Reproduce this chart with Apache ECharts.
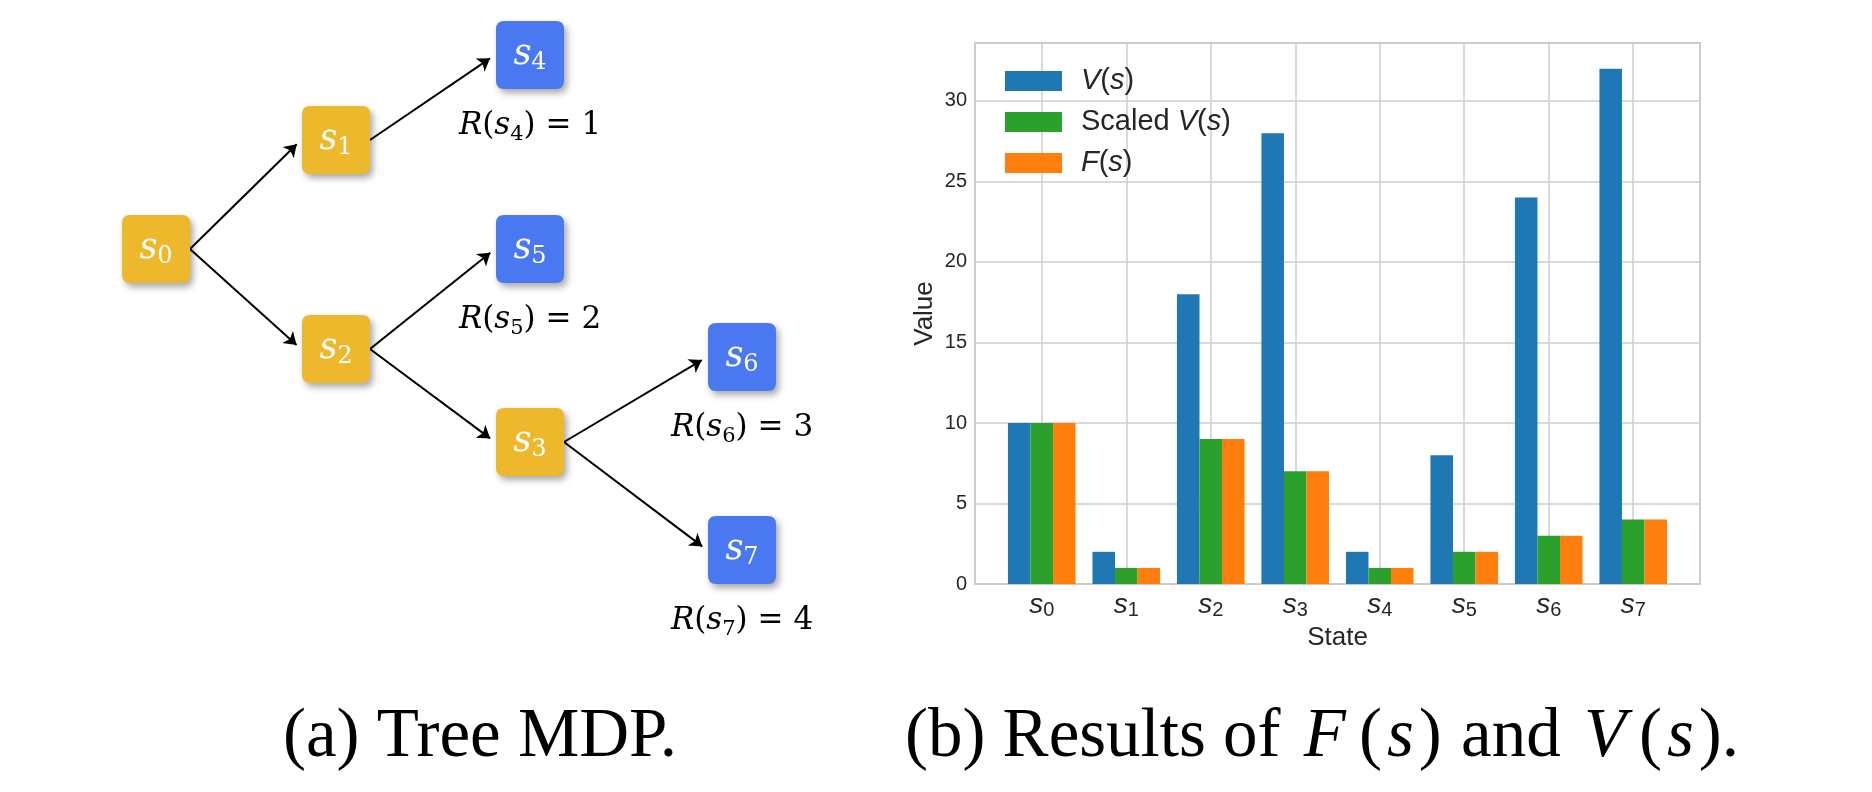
<!DOCTYPE html>
<html><head><meta charset="utf-8">
<script src="https://cdn.jsdelivr.net/npm/echarts@6/dist/echarts.min.js"></script>
<style>html,body{margin:0;padding:0;background:#fff}#c{width:1872px;height:792px}</style>
</head><body><div id="c"></div>
<script>
// ---------- bar chart data ----------
const stateIndex = [0, 1, 2, 3, 4, 5, 6, 7];
const vValues = [10, 2, 18, 28, 2, 8, 24, 32];
const scaledVValues = [10, 1, 9, 7, 1, 2, 3, 4];
const fValues = [10, 1, 9, 7, 1, 2, 3, 4];
const yTickValues = [0, 5, 10, 15, 20, 25, 30];
const seriesNames = ['V(s)', 'Scaled V(s)', 'F(s)'];
const legendRich = {
  'V(s)': '{i|V}({i|s})',
  'Scaled V(s)': 'Scaled {i|V}({i|s})',
  'F(s)': '{i|F}({i|s})'
};

// ---------- tree MDP diagram data ----------
const nodeSub = ['0', '1', '2', '3', '4', '5', '6', '7'];
const nodeX = [156, 336, 336, 530, 530, 530, 742, 742];
const nodeY = [249, 140, 349, 442, 55, 249, 357, 550];
const nodeIsLeaf = [false, false, false, false, true, true, true, true];
const treeEdges = [[0, 1], [0, 2], [1, 4], [2, 5], [2, 3], [3, 6], [3, 7]];
const rewardNodes = [4, 5, 6, 7];
const rewardValues = [1, 2, 3, 4];

const TEXT = '#262626';
const SANS = '"Liberation Sans", Arial, sans-serif';
const MATH = '"DejaVu Serif", serif';
const BOX = 68, HALF = BOX / 2, ARROW = 12;
const roundRect = 'path://M12,0 H88 Q100,0 100,12 V88 Q100,100 88,100 H12 Q0,100 0,88 V12 Q0,0 12,0 Z';

const toPairs = vals => stateIndex.map((x, k) => [x, vals[k]]);

const edgeData = treeEdges.map(([a, b]) => {
  const x1 = nodeX[a] + HALF, y1 = nodeY[a];
  let x2 = nodeX[b] - HALF - 1, y2 = nodeY[b];
  const dx = x2 - x1, dy = y2 - y1, len = Math.hypot(dx, dy);
  x2 -= dx / len * ARROW / 2; y2 -= dy / len * ARROW / 2;
  return { coords: [[x1, y1], [x2, y2]] };
});

const nodeData = nodeSub.map((sub, i) => ({
  value: [nodeX[i], nodeY[i]],
  itemStyle: { color: nodeIsLeaf[i] ? '#4A78F0' : '#EDB82C' },
  label: { formatter: '{s|s}{d|' + sub + '}' }
}));

const rewardData = rewardNodes.map((n, k) => ({
  value: [nodeX[n], nodeY[n] + 71],
  label: { formatter: '{i|R}({i|s}{d|' + nodeSub[n] + '}) = ' + rewardValues[k] }
}));

const chart = echarts.init(document.getElementById('c'), null, { renderer: 'canvas' });
chart.setOption({
  backgroundColor: '#ffffff',
  animation: false,
  grid: [
    { left: 975, top: 43, width: 725, height: 541, show: true, borderColor: '#cccccc', borderWidth: 2, backgroundColor: 'transparent' },
    { left: 0, top: 0, width: 936, height: 792, show: false }
  ],
  xAxis: [
    {
      type: 'value', gridIndex: 0, min: -0.79, max: 7.79,
      name: 'State', nameLocation: 'middle', nameGap: 36,
      nameTextStyle: { fontSize: 26, color: TEXT, fontFamily: SANS, verticalAlign: 'top' },
      axisLine: { show: false }, axisTick: { show: false, customValues: stateIndex },
      splitLine: { show: true, lineStyle: { color: '#cccccc', width: 1.5 } },
      axisLabel: {
        customValues: stateIndex, margin: 6, color: TEXT,
        formatter: v => '{s|s}{d|' + v + '}',
        rich: {
          s: { fontStyle: 'italic', fontSize: 28, fontFamily: SANS, color: TEXT, lineHeight: 30 },
          d: { fontSize: 20, fontFamily: SANS, color: TEXT, lineHeight: 18, verticalAlign: 'bottom' }
        }
      }
    },
    { type: 'value', gridIndex: 1, min: 0, max: 936, show: false }
  ],
  yAxis: [
    {
      type: 'value', gridIndex: 0, min: 0, max: 33.6, interval: 5,
      name: 'Value', nameLocation: 'middle', nameGap: 37, nameRotate: 90,
      nameTextStyle: { fontSize: 26, color: TEXT, fontFamily: SANS },
      axisLine: { show: false }, axisTick: { show: false },
      splitLine: { show: true, lineStyle: { color: '#cccccc', width: 1.5 } },
      axisLabel: { customValues: yTickValues, fontSize: 20, color: TEXT, fontFamily: SANS, margin: 8 }
    },
    { type: 'value', gridIndex: 1, min: 0, max: 792, inverse: true, show: false }
  ],
  legend: {
    data: seriesNames, orient: 'vertical', left: 1000, top: 61,
    icon: 'rect', itemWidth: 57, itemHeight: 20, itemGap: 11,
    formatter: n => legendRich[n],
    textStyle: {
      fontSize: 29, color: TEXT, fontFamily: SANS, lineHeight: 30, padding: [0, 0, 0, 14],
      rich: { i: { fontStyle: 'italic', fontSize: 29, fontFamily: SANS, color: TEXT, lineHeight: 30 } }
    }
  },
  series: [
    { type: 'bar', name: seriesNames[0], xAxisIndex: 0, yAxisIndex: 0, data: toPairs(vValues), barGap: '0%', barCategoryGap: '20%', itemStyle: { color: '#1f77b4' } },
    { type: 'bar', name: seriesNames[1], xAxisIndex: 0, yAxisIndex: 0, data: toPairs(scaledVValues), barGap: '0%', barCategoryGap: '20%', itemStyle: { color: '#2ca02c' } },
    { type: 'bar', name: seriesNames[2], xAxisIndex: 0, yAxisIndex: 0, data: toPairs(fValues), barGap: '0%', barCategoryGap: '20%', itemStyle: { color: '#ff7f0e' } },
    {
      type: 'lines', coordinateSystem: 'cartesian2d', xAxisIndex: 1, yAxisIndex: 1, z: 2,
      data: edgeData, symbol: ['none', 'arrow'], symbolSize: ARROW,
      lineStyle: { color: '#000', width: 2, opacity: 1, curveness: 0 }
    },
    {
      type: 'scatter', xAxisIndex: 1, yAxisIndex: 1, z: 3,
      data: nodeData, symbol: roundRect, symbolSize: BOX,
      itemStyle: { opacity: 1, shadowBlur: 7, shadowColor: 'rgba(0,0,0,0.35)', shadowOffsetX: 3, shadowOffsetY: 4 },
      label: {
        show: true, position: 'inside',
        rich: {
          s: { fontStyle: 'italic', fontSize: 35, fontFamily: MATH, color: '#fff', lineHeight: 40 },
          d: { fontSize: 24, fontFamily: MATH, color: '#fff', lineHeight: 20, verticalAlign: 'bottom' }
        }
      }
    },
    {
      type: 'scatter', xAxisIndex: 1, yAxisIndex: 1, z: 3,
      data: rewardData, symbolSize: 0, itemStyle: { opacity: 1 },
      label: {
        show: true, position: 'inside', fontSize: 31, fontFamily: MATH, color: '#000', opacity: 1,
        rich: {
          i: { fontStyle: 'italic', fontSize: 31, fontFamily: MATH, color: '#000', lineHeight: 38 },
          d: { fontSize: 21, fontFamily: MATH, color: '#000', lineHeight: 18, verticalAlign: 'bottom' }
        }
      }
    }
  ],
  graphic: [
    { type: 'text', x: 480, y: 738, style: { text: '(a) Tree MDP.', font: '69px "Liberation Serif"', fill: '#000', align: 'center', verticalAlign: 'middle' } },
    { type: 'text', x: 1323, y: 738, style: {
      text: '(b) Results of {i|F}{n|(}{s|s}{n|)} and {i|V}{n|(}{s|s}{n|).}',
      font: '69px "Liberation Serif"', fill: '#000', align: 'center', verticalAlign: 'middle',
      rich: {
        i: { fontStyle: 'italic', fontSize: 69, fontFamily: 'Liberation Serif', padding: [0, 11, 0, 6] },
        s: { fontStyle: 'italic', fontSize: 69, fontFamily: 'Liberation Serif', padding: [0, 3, 0, 3] },
        n: { fontSize: 69, fontFamily: 'Liberation Serif', padding: [0, 2, 0, 2] }
      }
    } }
  ]
});
</script>
</body></html>
